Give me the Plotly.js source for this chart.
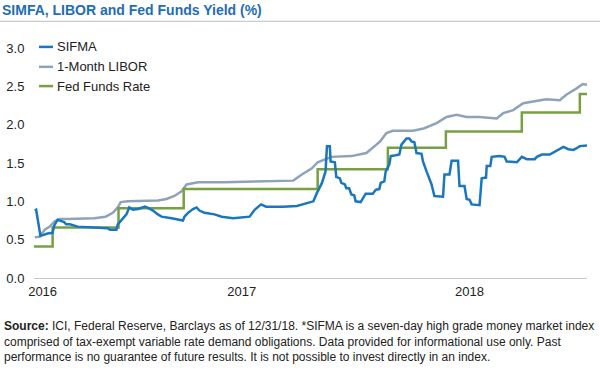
<!DOCTYPE html>
<html><head><meta charset="utf-8">
<script src="https://cdn.plot.ly/plotly-3.0.1.min.js"></script>
<style>html,body{margin:0;padding:0;background:#fff}#chart{width:600px;height:371px}</style>
</head><body><div id="chart"></div>
<script>
// ---- data ----
const seriesNames = ['SIFMA', '1-Month LIBOR', 'Fed Funds Rate'];

const sifmaDates = ['2016-11-20','2016-11-22','2016-11-28','2016-12-08','2016-12-15','2016-12-17','2016-12-22','2016-12-31','2017-01-03','2017-01-08',
 '2017-01-19','2017-02-11','2017-03-02','2017-03-05','2017-03-14','2017-03-16','2017-03-20','2017-03-25','2017-03-28','2017-04-01',
 '2017-04-06','2017-04-13','2017-04-23','2017-04-28','2017-05-04','2017-05-11','2017-05-16','2017-05-30','2017-06-08','2017-06-15',
 '2017-06-17','2017-06-22','2017-06-29','2017-07-04','2017-07-08','2017-07-15','2017-07-29','2017-08-08','2017-08-24','2017-09-16',
 '2017-09-23','2017-10-02','2017-10-09','2017-11-02','2017-11-21','2017-12-01','2017-12-14','2017-12-19','2017-12-26','2017-12-31',
 '2018-01-02','2018-01-06','2018-01-07','2018-01-13','2018-01-15','2018-01-20','2018-01-22','2018-01-27','2018-01-29','2018-02-02',
 '2018-02-05','2018-02-09','2018-02-11','2018-02-18','2018-02-25','2018-03-07','2018-03-11','2018-03-16','2018-03-18','2018-03-23',
 '2018-03-25','2018-03-30','2018-04-01','2018-04-08','2018-04-13','2018-04-16','2018-04-23','2018-04-27','2018-04-30','2018-05-04',
 '2018-05-07','2018-05-14','2018-05-16','2018-05-21','2018-05-28','2018-06-01','2018-06-13','2018-06-15','2018-06-22','2018-06-25',
 '2018-07-04','2018-07-06','2018-07-13','2018-07-16','2018-07-20','2018-07-23','2018-08-03','2018-08-06','2018-08-12','2018-08-13',
 '2018-08-18','2018-08-20','2018-08-31','2018-09-07','2018-09-10','2018-09-24','2018-10-01','2018-10-08','2018-10-19','2018-10-22',
 '2018-10-29','2018-11-09','2018-11-16','2018-11-23','2018-11-28','2018-12-05','2018-12-12','2018-12-16','2018-12-21','2018-12-31'];
const sifmaValues = [0.88,0.89,0.55,0.58,0.59,0.68,0.76,0.73,0.70,0.70,
 0.67,0.66,0.65,0.63,0.63,0.70,0.74,0.80,0.83,0.92,
 0.89,0.90,0.93,0.91,0.88,0.83,0.80,0.78,0.76,0.75,
 0.80,0.85,0.90,0.92,0.88,0.85,0.83,0.80,0.78,0.80,
 0.89,0.96,0.93,0.93,0.94,0.97,1.00,1.11,1.24,1.39,
 1.72,1.72,1.52,1.51,1.32,1.30,1.24,1.22,1.17,1.17,
 1.09,1.08,1.00,0.99,1.10,1.10,1.15,1.16,1.24,1.26,
 1.39,1.48,1.59,1.60,1.61,1.74,1.82,1.82,1.78,1.77,
 1.63,1.62,1.52,1.39,1.22,1.07,1.06,1.35,1.35,1.53,
 1.53,1.20,1.20,1.03,1.02,0.96,0.95,1.30,1.31,1.46,
 1.46,1.58,1.59,1.58,1.52,1.51,1.58,1.55,1.55,1.58,
 1.61,1.61,1.65,1.69,1.71,1.68,1.67,1.69,1.72,1.73];

const liborDates = ['2016-11-20','2016-11-27','2016-12-04','2016-12-11','2016-12-18','2016-12-25','2017-01-05','2017-01-24','2017-02-11','2017-02-27',
 '2017-03-09','2017-03-16','2017-03-20','2017-03-30','2017-05-11','2017-05-23','2017-06-03','2017-06-13','2017-06-20','2017-07-06',
 '2017-08-12','2017-09-23','2017-11-16','2017-11-28','2017-12-12','2017-12-20','2017-12-26','2018-01-01','2018-01-08','2018-02-05',
 '2018-02-26','2018-03-12','2018-03-17','2018-03-26','2018-04-04','2018-05-02','2018-05-17','2018-06-04','2018-06-18','2018-07-02',
 '2018-07-16','2018-08-03','2018-08-27','2018-09-05','2018-09-19','2018-10-03','2018-10-22','2018-11-04','2018-11-23','2018-12-02',
 '2018-12-16','2018-12-25','2018-12-31'];
const liborValues = [0.53,0.54,0.63,0.67,0.74,0.77,0.77,0.78,0.78,0.80,
 0.85,0.92,0.99,1.00,1.01,1.03,1.07,1.13,1.22,1.25,
 1.25,1.26,1.27,1.35,1.43,1.51,1.53,1.56,1.58,1.59,
 1.63,1.74,1.78,1.89,1.92,1.92,1.95,2.02,2.10,2.13,
 2.10,2.10,2.08,2.15,2.19,2.28,2.31,2.33,2.32,2.39,
 2.47,2.53,2.52];

const fedDates = ['2016-11-19','2016-12-15','2017-03-17','2017-06-16','2017-12-20','2018-03-28','2018-06-17','2018-10-01','2018-12-21','2018-12-31'];
const fedValues = [0.41,0.66,0.91,1.16,1.42,1.70,1.91,2.16,2.40,2.40];

const yTickVals = [0, 0.5, 1.0, 1.5, 2.0, 2.5, 3.0];
const xTickVals = ['2016-12-01', '2017-09-05', '2018-07-20'];
const xTickText = ['2016', '2017', '2018'];

const colors = ['#1a76bd', '#8ea3b7', '#77a042'];

const titleText = 'SIMFA, LIBOR and Fed Funds Yield (%)';
const sourceText = '<b>Source:</b> ICI, Federal Reserve, Barclays as of 12/31/18. *SIFMA is a seven-day high grade money market index<br>' +
  'comprised of tax-exempt variable rate demand obligations. Data provided for informational use only. Past<br>' +
  'performance is no guarantee of future results. It is not possible to invest directly in an index.';

// ---- chart ----
const font = 'Liberation Sans, Arial, sans-serif';
const traces = [
  {x: liborDates, y: liborValues, name: seriesNames[1], mode: 'lines', line: {color: colors[1], width: 2.5}},
  {x: fedDates, y: fedValues, name: seriesNames[2], mode: 'lines', line: {color: colors[2], width: 2.5, shape: 'hv'}},
  {x: sifmaDates, y: sifmaValues, name: seriesNames[0], mode: 'lines', line: {color: colors[0], width: 2.5}}
];

// legend drawn as shapes + annotations
const L = 34, R = 587, T = 47.8, B = 278.5;
const px2x = p => (p - L) / (R - L);
const px2y = p => (B - p) / (B - T);
const legendRows = [46.7, 66.7, 86];
const shapes = [
  {type: 'line', xref: 'paper', yref: 'paper', x0: px2x(0), x1: px2x(600), y0: px2y(21), y1: px2y(21), line: {color: '#bdbdbd', width: 1}}
];
const annotations = [];
seriesNames.forEach((n, i) => {
  shapes.push({type: 'line', xref: 'paper', yref: 'paper', x0: px2x(39), x1: px2x(53), y0: px2y(legendRows[i]), y1: px2y(legendRows[i]), line: {color: colors[i], width: 2.5}});
  annotations.push({xref: 'paper', yref: 'paper', x: px2x(55), y: px2y(legendRows[i]), xanchor: 'left', yanchor: 'middle', text: n, showarrow: false, font: {family: font, size: 13, color: '#222'}});
});
annotations.push({xref: 'paper', yref: 'paper', x: px2x(2), y: px2y(318), xanchor: 'left', yanchor: 'top', align: 'left', text: sourceText, showarrow: false, font: {family: font, size: 12, color: '#222'}});

const layout = {
  width: 600, height: 371,
  margin: {l: L, r: 600 - R, t: T, b: 371 - B, pad: 0},
  paper_bgcolor: '#fff', plot_bgcolor: '#fff',
  showlegend: false,
  title: {text: '<b>' + titleText + '</b>', x: 2 / 600, xref: 'container', xanchor: 'left', y: 1 - 10 / 371, yref: 'container', yanchor: 'middle',
          font: {family: font, size: 14, color: '#1f6db5'}},
  xaxis: {type: 'date', range: ['2016-11-19', '2018-12-31'], tickvals: xTickVals, ticktext: xTickText,
          showgrid: false, zeroline: false, showline: true, linecolor: '#c8c8c8', linewidth: 1,
          ticks: 'outside', ticklen: 1, tickcolor: 'rgba(0,0,0,0)', tickfont: {family: font, size: 13, color: '#222'}},
  yaxis: {range: [0, 3], tickvals: yTickVals, tickformat: '.1f', showgrid: false, zeroline: false, showline: false,
          ticks: 'outside', ticklen: 6, tickcolor: 'rgba(0,0,0,0)', tickfont: {family: font, size: 13, color: '#222'}},
  shapes: shapes,
  annotations: annotations
};

Plotly.newPlot('chart', traces, layout, {staticPlot: true});
</script>
</body></html>
